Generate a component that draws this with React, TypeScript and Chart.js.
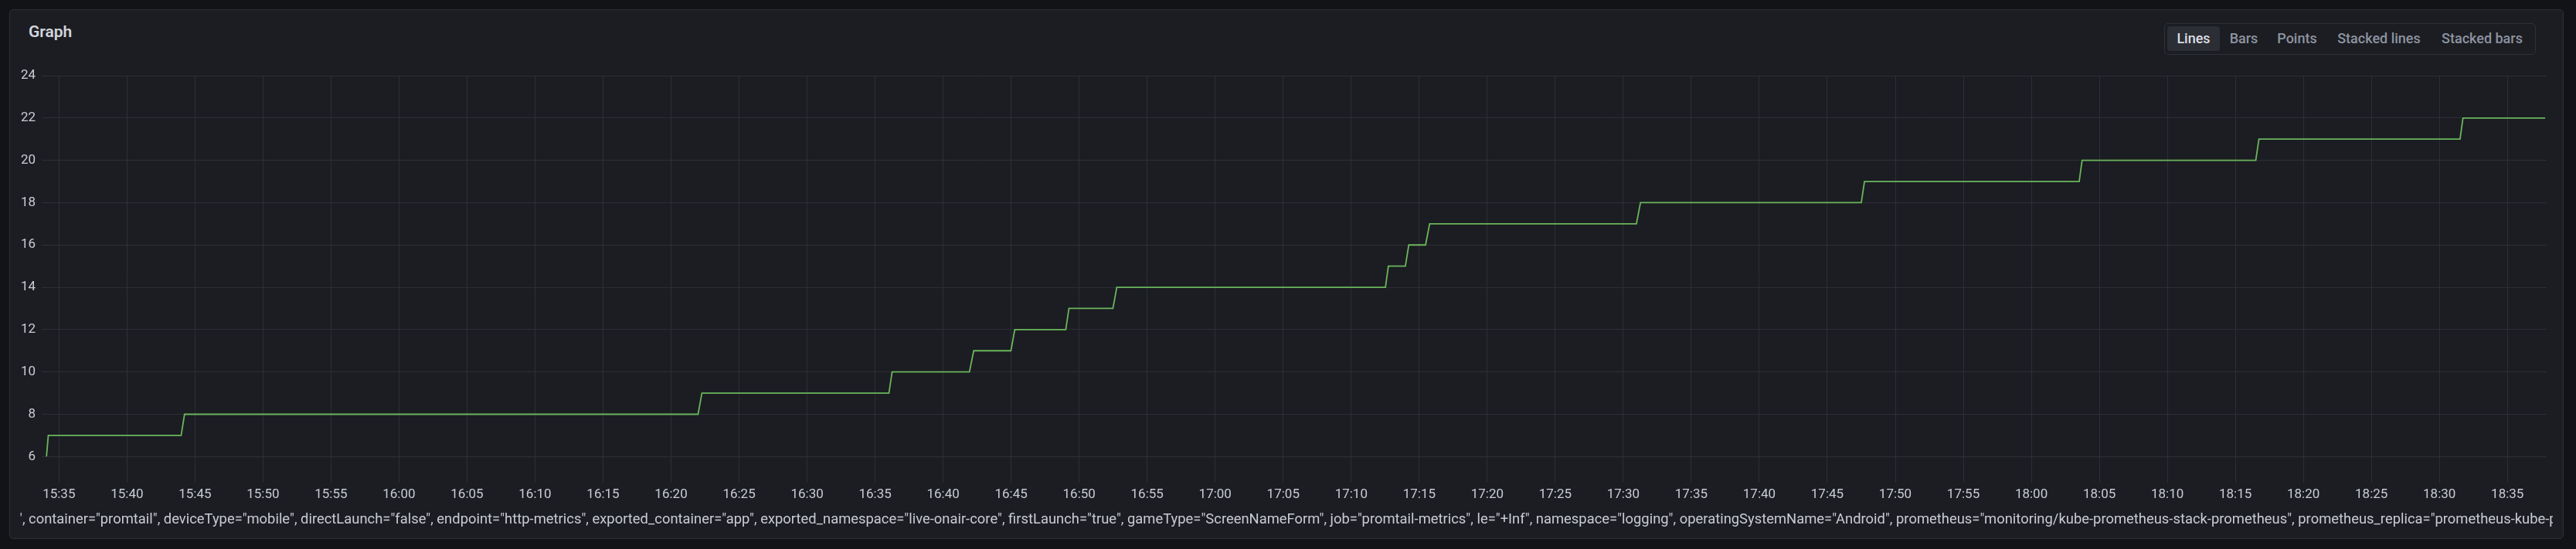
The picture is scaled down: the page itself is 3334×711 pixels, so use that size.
import React, { useEffect, useRef } from "react";
import { Chart, registerables } from "chart.js";

Chart.register(...registerables);

// ---- data ----
const sampleTimes = [
  "15:34:05", "15:34:13", "15:43:59", "15:44:14", "16:21:59", "16:22:16",
  "16:36:01", "16:36:15", "16:41:56", "16:42:15", "16:44:59", "16:45:16",
  "16:49:01", "16:49:15", "16:52:29", "16:52:46", "17:12:31", "17:12:44",
  "17:13:59", "17:14:14", "17:15:28", "17:15:46", "17:30:58", "17:31:16",
  "17:47:30", "17:47:44", "18:03:31", "18:03:44", "18:16:30", "18:16:44",
  "18:31:31", "18:31:44", "18:37:46",
];
const sampleValues = [
  6, 7, 7, 8, 8, 9,
  9, 10, 10, 11, 11, 12,
  12, 13, 13, 14, 14, 15,
  15, 16, 16, 17, 17, 18,
  18, 19, 19, 20, 20, 21,
  21, 22, 22,
];
const xTickLabels = [
  "15:35", "15:40", "15:45", "15:50", "15:55", "16:00", "16:05", "16:10",
  "16:15", "16:20", "16:25", "16:30", "16:35", "16:40", "16:45", "16:50",
  "16:55", "17:00", "17:05", "17:10", "17:15", "17:20", "17:25", "17:30",
  "17:35", "17:40", "17:45", "17:50", "17:55", "18:00", "18:05", "18:10",
  "18:15", "18:20", "18:25", "18:30", "18:35",
];
const yTickValues = [6, 8, 10, 12, 14, 16, 18, 20, 22, 24];
const xRange = ["15:33:44", "18:37:53"];
const yRange = [4.77, 24];
const panelTitle = "Graph";
const viewModes = ["Lines", "Bars", "Points", "Stacked lines", "Stacked bars"];
const activeMode = "Lines";
const seriesLabel =
  '", container="promtail", deviceType="mobile", directLaunch="false", endpoint="http-metrics", exported_container="app", exported_namespace="live-onair-core", firstLaunch="true", gameType="ScreenNameForm", job="promtail-metrics", le="+Inf", namespace="logging", operatingSystemName="Android", prometheus="monitoring/kube-prometheus-stack-prometheus", prometheus_replica="prometheus-kube-prometheus-stack-prometheus-0"}';

const toSec = (s: string) => {
  const p = s.split(":").map(Number);
  return p[0] * 3600 + p[1] * 60 + (p[2] || 0);
};
const fmt = (sec: number) => {
  const h = Math.floor(sec / 3600);
  const m = Math.round((sec - h * 3600) / 60);
  return `${h}:${String(m).padStart(2, "0")}`;
};

const FONT = "Roboto, 'Noto Sans', sans-serif";
const modeCenters = [2839, 2904, 2973, 3079, 3212.5];

export default function App() {
  const ref = useRef<HTMLCanvasElement | null>(null);

  useEffect(() => {
    if (!ref.current) return;
    const chart = new Chart(ref.current, {
      type: "line",
      data: {
        datasets: [
          {
            label: "series",
            data: sampleTimes.map((t, i) => ({ x: toSec(t), y: sampleValues[i] })),
            borderColor: "#6bb65d",
            borderWidth: 1.8,
            pointRadius: 0,
            tension: 0,
            fill: false,
          },
        ],
      },
      options: {
        animation: false,
        responsive: false,
        devicePixelRatio: 1,
        layout: { padding: { left: 0, top: 98, right: 38, bottom: 0 } },
        plugins: { legend: { display: false }, tooltip: { enabled: false } },
        scales: {
          x: {
            type: "linear",
            min: toSec(xRange[0]),
            max: toSec(xRange[1]),
            afterBuildTicks: (s: any) => {
              s.ticks = xTickLabels.map((l) => ({ value: toSec(l) }));
            },
            afterFit: (s: any) => {
              s.height = 86;
            },
            ticks: {
              autoSkip: false,
              maxRotation: 0,
              padding: 6,
              color: "#c9ccd3",
              font: { family: FONT, size: 17 },
              callback: (v: any) => fmt(Number(v)),
            },
            grid: { color: "#2c2f35", lineWidth: 1, drawTicks: false },
            border: { display: false },
          },
          y: {
            type: "linear",
            min: yRange[0],
            max: yRange[1],
            afterBuildTicks: (s: any) => {
              s.ticks = yTickValues.map((v) => ({ value: v }));
            },
            afterFit: (s: any) => {
              s.width = 54;
            },
            ticks: {
              padding: 8,
              color: "#c9ccd3",
              font: { family: FONT, size: 17 },
            },
            grid: { color: "#2c2f35", lineWidth: 1, drawTicks: false },
            border: { display: false },
          },
        },
      },
    });
    return () => chart.destroy();
  }, []);

  return (
    <div
      style={{
        position: "fixed",
        left: 0,
        top: 0,
        width: 3334,
        height: 711,
        background: "#121317",
        overflow: "hidden",
        fontFamily: FONT,
      }}
    >
      <div
        style={{
          position: "absolute",
          left: 12,
          top: 12,
          width: 3306,
          height: 686,
          background: "#1b1d22",
          border: "1px solid #2e3036",
          borderRadius: 5,
          boxSizing: "border-box",
        }}
      />
      <div
        style={{
          position: "absolute",
          left: 37,
          top: 28,
          fontSize: 21,
          fontWeight: 600,
          color: "#d2d4db",
          lineHeight: "26px",
        }}
      >
        {panelTitle}
      </div>
      <div
        style={{
          position: "absolute",
          left: 2801,
          top: 30,
          width: 481,
          height: 41,
          border: "1px solid #2e3036",
          borderRadius: 5,
          boxSizing: "border-box",
        }}
      />
      <div
        style={{
          position: "absolute",
          left: 2805,
          top: 34,
          width: 68,
          height: 32,
          background: "#2b2e34",
          borderRadius: 4,
        }}
      />
      {viewModes.map((m, i) => (
        <div
          key={m}
          style={{
            position: "absolute",
            left: modeCenters[i],
            top: 39,
            transform: "translateX(-50%)",
            whiteSpace: "nowrap",
            fontSize: 18,
            fontWeight: 500,
            lineHeight: "22px",
            color: m === activeMode ? "#dcdee4" : "#8e93a0",
          }}
        >
          {m}
        </div>
      ))}
      <canvas
        ref={ref}
        width={3334}
        height={711}
        style={{ position: "absolute", left: 0, top: 0, width: 3334, height: 711 }}
      />
      <div
        style={{
          position: "absolute",
          left: 26,
          top: 660,
          width: 3278,
          height: 24,
          overflow: "hidden",
          whiteSpace: "nowrap",
          fontSize: 18.4,
          lineHeight: "24px",
          color: "#c9ccd3",
        }}
      >
        <span style={{ marginLeft: -3 }}>{seriesLabel}</span>
      </div>
    </div>
  );
}
